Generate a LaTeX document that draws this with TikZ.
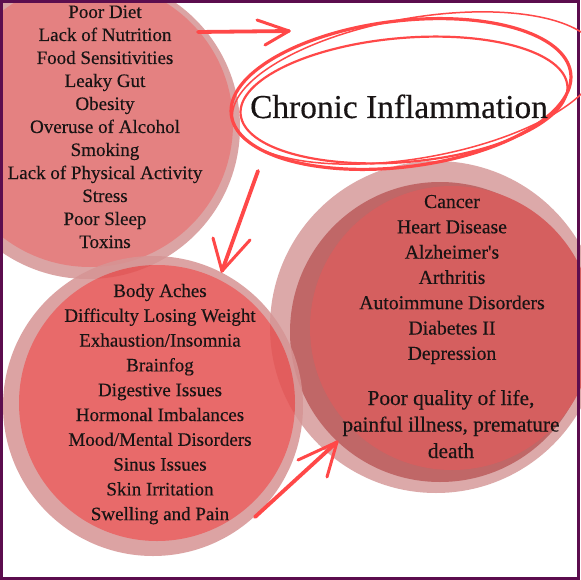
\documentclass[tikz,border=0pt]{standalone}
\usepackage{fontspec}
\setmainfont{Liberation Serif}[FakeBold=0.35]
\definecolor{framepurple}{RGB}{92,13,78}
\definecolor{arrowred}{RGB}{255,72,72}
\definecolor{txt}{RGB}{25,20,20}
\definecolor{tlring}{RGB}{213,149,149}
\definecolor{tlcore}{RGB}{224,108,108}
\definecolor{blring}{RGB}{214,148,148}
\definecolor{blcore}{RGB}{228,80,80}
\definecolor{rring}{RGB}{214,155,155}
\definecolor{rmid}{RGB}{181,77,77}
\definecolor{rcore}{RGB}{206,67,68}
\tikzset{
  bubble/.style={transparency group, opacity=0.85},
  listtl/.style={font=\fontsize{19}{23}\selectfont, text=txt, inner sep=0pt, anchor=base},
  listbl/.style={font=\fontsize{19}{23}\selectfont, text=txt, inner sep=0pt, anchor=base},
  listr/.style={font=\fontsize{19.7}{23}\selectfont, text=txt, inner sep=0pt, anchor=base},
  parar/.style={font=\fontsize{21.3}{23}\selectfont, text=txt, inner sep=0pt, anchor=base},
  titletext/.style={font=\fontsize{33.4}{36}\selectfont, text=txt, inner sep=0pt, anchor=base},
  scribble/.style={draw=arrowred, line cap=round, line join=round},
  handarrow/.style={draw=arrowred, line width=3.8pt, line cap=round, line join=round},
}
\begin{document}
\begin{tikzpicture}[x=1pt,y=-1pt]
\useasboundingbox (0,0) rectangle (580,580);
\fill[white] (0,0) rectangle (580,580);

% top-left bubble
\begin{scope}[bubble]
  \fill[tlring] (88,127) circle[radius=152pt];
  \fill[tlcore] (90,124) circle[radius=143pt];
\end{scope}
% right bubble
\begin{scope}[bubble]
  \fill[rring] (436,327) circle[radius=166pt];
  \fill[rmid] (440,332) circle[radius=150pt];
  \fill[rcore] (452,328) circle[radius=142pt];
\end{scope}
% bottom-left bubble
\begin{scope}[bubble]
  \fill[blring] (153,406) circle[radius=150pt];
  \fill[blcore] (157,403) circle[radius=138pt];
\end{scope}

% frame
\draw[framepurple, line width=3pt] (1.5,1.5) rectangle (578.5,578.5);

% scribbled ellipse around the title
\draw[scribble, line width=3.2pt, rotate around={7:(401,94)}] (401,94) ellipse[x radius=171pt, y radius=73pt];
\draw[scribble, line width=2.2pt, rotate around={5:(404,100)}] (404,100) ellipse[x radius=164pt, y radius=62pt];
\draw[scribble, line width=1.5pt, rotate around={10:(416,88)}] (416,88) ellipse[x radius=186pt, y radius=70pt];

\node[titletext] (title) at (399,118) {Chronic Inflammation};

% causes
\foreach \t [count=\i] in {Poor Diet, Lack of Nutrition, Food Sensitivities, Leaky Gut, Obesity, Overuse of Alcohol, Smoking, Lack of Physical Activity, Stress, Poor Sleep, Toxins}
  \node[listtl] (cause\i) at (105,{18+23*(\i-1)}) {\t};

% symptoms
\foreach \t [count=\i] in {Body Aches, Difficulty Losing Weight, Exhaustion/Insomnia, Brainfog, Digestive Issues, Hormonal Imbalances, Mood/Mental Disorders, Sinus Issues, Skin Irritation, Swelling and Pain}
  \node[listbl] (symp\i) at (160,{297+24.8*(\i-1)}) {\t};

% diseases
\foreach \t [count=\i] in {Cancer, Heart Disease, Alzheimer\textquotesingle s, Arthritis, Autoimmune Disorders, Diabetes II, Depression}
  \node[listr] (dis\i) at (452,{208+25.3*(\i-1)}) {\t};

\node[parar] (out1) at (451,405) {Poor quality of life,};
\node[parar] (out2) at (451,431.5) {painful illness, premature};
\node[parar] (out3) at (451,458) {death};

% hand-drawn arrows
\coordinate (a1s) at (198,32);
\coordinate (a1t) at (289,31);
\coordinate (a1u) at (257,20);
\coordinate (a1d) at (265,45);
\draw[handarrow] (a1s) -- (a1t);
\draw[handarrow, line width=3pt] (a1u) -- (a1t) -- (a1d);

\coordinate (a2s) at (258,171);
\coordinate (a2t) at (222,271);
\coordinate (a2l) at (213,238);
\coordinate (a2r) at (250,240);
\draw[handarrow] (a2s) -- (a2t);
\draw[handarrow, line width=3pt] (a2l) -- (a2t) -- (a2r);

\coordinate (a3s) at (255,517);
\coordinate (a3t) at (337,442);
\coordinate (a3l) at (298,460);
\coordinate (a3r) at (327,477);
\draw[handarrow] (a3s) -- (a3t);
\draw[handarrow, line width=3pt] (a3l) -- (a3t) -- (a3r);
\end{tikzpicture}
\end{document}
